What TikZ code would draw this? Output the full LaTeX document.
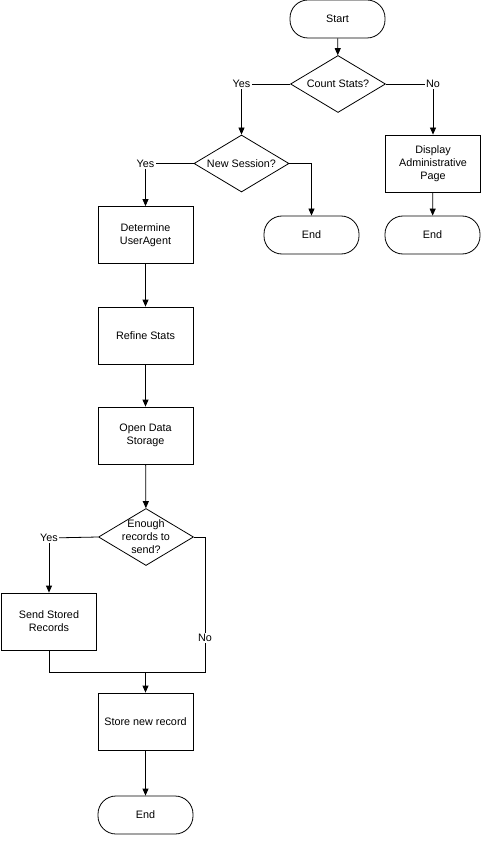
\documentclass[tikz,border=0pt]{standalone}
\usepackage{fontspec}
\setmainfont{Liberation Sans}
\usetikzlibrary{shapes.geometric,arrows.meta}
\begin{document}
\begin{tikzpicture}[x=1pt,y=-1pt,
    font=\fontsize{10.8}{13}\selectfont,
    line width=0.8pt,
    >={Triangle[length=7pt,width=6pt]},
    terminal/.style={draw,rectangle,rounded corners=18pt,minimum width=95pt,minimum height=38pt,inner sep=0pt},
    process/.style={draw,rectangle,align=center,minimum width=95pt,minimum height=57pt,inner sep=0pt},
    decision/.style={draw,diamond,aspect=1.67,align=center,minimum width=95pt,minimum height=57pt,inner sep=0pt},
    answer/.style={fill=white,inner sep=1pt}]
    \useasboundingbox (0,0) rectangle (481,842);
    %draw nodes
    \node[terminal] (start) at (337.5,19) {Start};
    \node[decision] (count) at (338,84) {Count Stats?};
    \node[decision] (newsess) at (241.5,163.5) {New Session?};
    \node[process] (display) at (433,163.5) {Display\\Administrative\\Page};
    \node[terminal] (endmid) at (311.5,235) {End};
    \node[terminal] (endright) at (432.5,235) {End};
    \node[process] (agent) at (145.5,235) {Determine\\UserAgent};
    \node[process] (refine) at (145.5,335.5) {Refine Stats};
    \node[process] (open) at (145.5,435.5) {Open Data\\Storage};
    \node[decision,label={[align=center]center:Enough\\records to\\send?}] (enough) at (146,537) {};
    \node[process] (send) at (49,621.5) {Send Stored\\Records};
    \node[process] (store) at (145.5,721.5) {Store new record};
    \node[terminal] (endlow) at (145.5,815) {End};
    %draw answers
    \node[answer] (yescount) at (241.5,84) {Yes};
    \node[answer] (nocount) at (433,84) {No};
    \node[answer] (yessess) at (145.5,163.5) {Yes};
    \node[answer] (yesenough) at (49,538) {Yes};
    \node[answer] (noenough) at (205,638) {No};
    \coordinate (join) at (145.5,672);
    %draw lines
    \draw [->] (start) -- (count);
    \draw [-] (count.west) -- (yescount);
    \draw [->] (yescount) -- (newsess);
    \draw [-] (count.east) -- (nocount);
    \draw [->] (nocount) -- (display);
    \draw [->] (display) -- (endright);
    \draw [-] (newsess.west) -- (yessess);
    \draw [->] (yessess) -- (agent);
    \draw [->] (newsess.east) -| (endmid);
    \draw [->] (agent) -- (refine);
    \draw [->] (refine) -- (open);
    \draw [->] (open) -- (enough);
    \draw [-] (enough.west) -- (yesenough);
    \draw [->] (yesenough) -- (send);
    \draw [-] (enough.east) -| (noenough);
    \draw [-] (noenough) |- (join);
    \draw [-] (send) |- (join);
    \draw [->] (join) -- (store);
    \draw [->] (store) -- (endlow);
\end{tikzpicture}
\end{document}
